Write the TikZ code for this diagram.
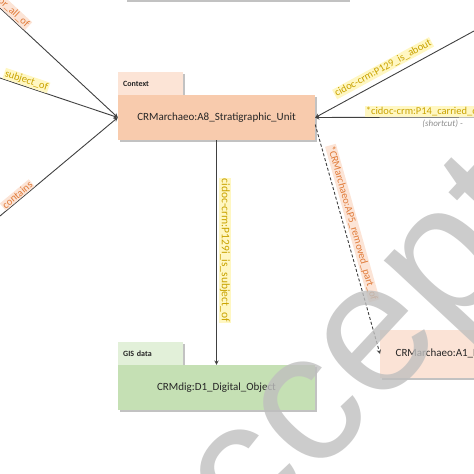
\documentclass[tikz,border=0pt]{standalone}
\usepackage{fontspec}
\setmainfont{Carlito}
\newfontfamily\wmfont{Liberation Sans}
\usetikzlibrary{shadows}
\definecolor{ctxfill}{HTML}{F8CBAD}
\definecolor{ctxtab}{HTML}{FCE4D6}
\definecolor{exufill}{HTML}{FBE3D6}
\definecolor{gisfill}{HTML}{C5E0B4}
\definecolor{gistab}{HTML}{E2F0D9}
\definecolor{lblyellow}{HTML}{C9A200}
\definecolor{lblorange}{HTML}{E07B39}
\definecolor{hlyellow}{HTML}{FFF7C2}
\definecolor{hlorange}{HTML}{FCE4D6}
\begin{document}
\begin{tikzpicture}[x=1pt, y=-1pt, >=stealth, line join=round]
 \tikzset{every node/.style={font=\fontsize{11}{13}\selectfont, text=black!85},
  box/.style={minimum width=197pt, minimum height=45pt, inner sep=0pt,
   drop shadow={shadow xshift=2pt, shadow yshift=-2pt, fill=black!40, opacity=0.6}},
  tabbox/.style={anchor=south west, minimum width=65pt, minimum height=24pt, text width=55pt,
   inner sep=5pt, align=left, font=\bfseries\fontsize{8}{9}\selectfont,
   drop shadow={shadow xshift=2pt, shadow yshift=-2pt, fill=black!40, opacity=0.6}},
  link/.style={draw=black!75, line width=0.9pt, ->},
  lbly/.style={text=lblyellow, fill=hlyellow, inner sep=1pt, font=\fontsize{10.5}{12}\selectfont},
  lblo/.style={text=lblorange, fill=hlorange, inner sep=1pt, font=\fontsize{10.5}{12}\selectfont}}
 \useasboundingbox (0,0) rectangle (474,474);
 \clip (0,0) rectangle (474,474);
 % boxes
 \node[box, fill=white, minimum width=223pt, anchor=south west] (top) at (125,0.5) {};
 \node[tabbox, fill=ctxtab] (ctxt) at (118,96) {Context};
 \node[box, fill=ctxfill] (ctx) at (216.5,117.5) {CRMarchaeo:A8\_Stratigraphic\_Unit};
 \node[tabbox, fill=gistab] (gist) at (118,366) {GIS data};
 \node[box, fill=gisfill] (gis) at (216.5,387.5) {CRMdig:D1\_Digital\_Object};
 \node[box, fill=exufill, minimum width=233pt, minimum height=48pt, anchor=west] (exu) at (380,354)
  {CRMarchaeo:A1\_Excavation\_Processing\_Unit};
 % free ends
 \coordinate (l1) at (0,8);
 \coordinate (l2) at (0,78);
 \coordinate (l3) at (0,216);
 \coordinate (r1) at (474,31);
 \coordinate (r2) at (474,117);
 % links
 \draw[link] (l1) -- (ctx.west) node[lblo, sloped, pos=0.21, anchor=south east] {part\_or\_all\_of};
 \draw[link] (l2) -- (ctx.west) node[lbly, sloped, pos=0.40, anchor=south east] {subject\_of};
 \draw[link] (l3) -- (ctx.west) node[lblo, sloped, pos=0.30, anchor=south east] {contains};
 \draw[link] (r1) -- (ctx.east) node[lbly, sloped, pos=0.54, anchor=south, yshift=5pt] {cidoc-crm:P129\_is\_about};
 \draw[link] (r2) -- (ctx.east)
  node[lbly, pos=0.69, anchor=south west] {*cidoc-crm:P14\_carried\_out\_by}
  node[pos=0.34, anchor=north west, inner sep=2pt, text=black!45, font=\itshape\fontsize{9}{10}\selectfont] {(shortcut) -};
 \draw[link] (ctx.south) -- (gis.north) node[lbly, rotate=-90, pos=0.49, anchor=south, yshift=2pt,
  font=\fontsize{11.5}{13}\selectfont] {cidoc-crm:P129i\_is\_subject\_of};
 \draw[link, dash pattern=on 3pt off 2pt] ([yshift=-7pt]ctx.east) -- (exu.west)
  node[lblo, sloped, pos=0.44, anchor=south, yshift=3pt] {*CRMarchaeo:AP5\_removed\_part\_of};
 % watermark
 \node[font=\wmfont\fontsize{185}{185}\selectfont, text=black!25, opacity=0.8, rotate=47, anchor=base west] (wm)
  at (165,640) {Accepted};
\end{tikzpicture}
\end{document}
